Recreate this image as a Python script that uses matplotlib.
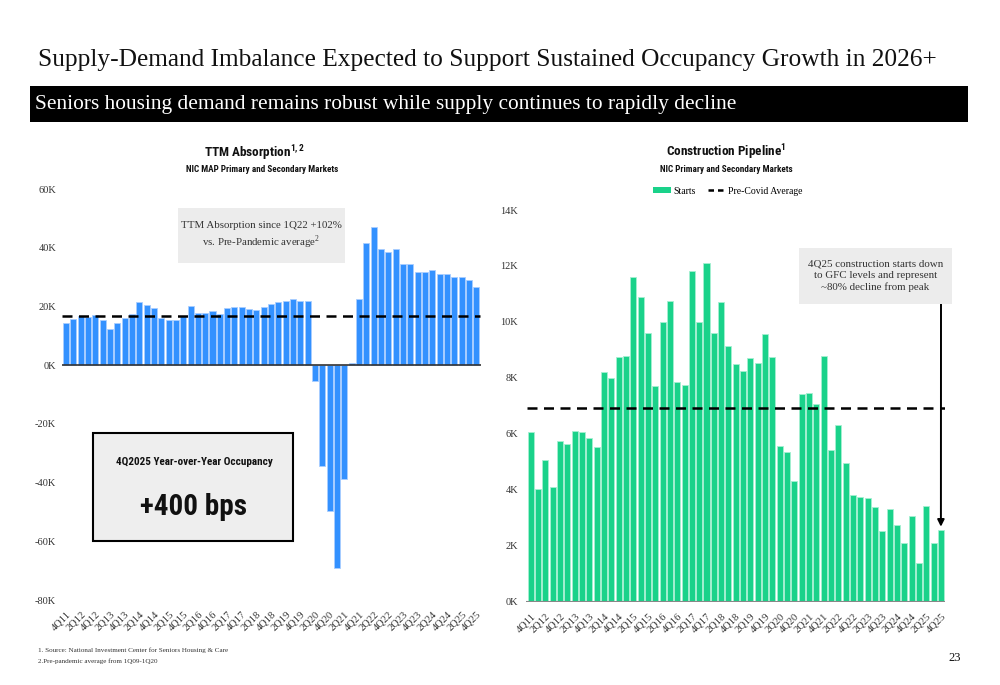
import matplotlib
matplotlib.use("Agg")
import matplotlib.pyplot as plt
from matplotlib.patches import Rectangle, Patch
from matplotlib.lines import Line2D

# ---------------- data ----------------
tick_labels = ["4Q11", "2Q12", "4Q12", "2Q13", "4Q13", "2Q14", "4Q14", "2Q15", "4Q15",
               "2Q16", "4Q16", "2Q17", "4Q17", "2Q18", "4Q18", "2Q19", "4Q19", "2Q20",
               "4Q20", "2Q21", "4Q21", "2Q22", "4Q22", "2Q23", "4Q23", "2Q24", "4Q24",
               "2Q25", "4Q25"]

absorption_k = [14.4, 15.7, 16.7, 16.5, 17.0, 15.5, 12.3, 14.3, 16.1, 17.6,
                21.5, 20.6, 19.4, 16.0, 15.5, 15.5, 16.6, 20.2, 17.9, 17.7,
                18.3, 17.4, 19.5, 19.8, 19.7, 19.0, 18.7, 19.8, 20.9, 21.5,
                21.8, 22.7, 21.7, 21.8, -5.5, -34.3, -49.7, -69.1, -38.9, 0.6,
                22.7, 41.6, 47.1, 39.5, 38.6, 39.6, 34.6, 34.4, 31.6, 31.9,
                32.5, 31.1, 31.0, 30.1, 30.1, 28.9, 26.8]
pre_pandemic_avg_k = 16.9

starts_k = [6.08, 4.03, 5.06, 4.10, 5.74, 5.63, 6.09, 6.07, 5.86, 5.53,
            8.22, 7.99, 8.75, 8.79, 11.60, 10.89, 9.59, 7.70, 9.99, 10.75,
            7.87, 7.76, 11.83, 9.99, 12.09, 9.59, 10.72, 9.14, 8.50, 8.26,
            8.71, 8.53, 9.56, 8.75, 5.56, 5.35, 4.33, 7.41, 7.47, 7.07,
            8.77, 5.43, 6.32, 4.94, 3.80, 3.73, 3.72, 3.39, 2.53, 3.30,
            2.73, 2.11, 3.05, 1.40, 3.42, 2.09, 2.56]
pre_covid_avg_k = 6.94

left_yticks = [60, 40, 20, 0, -20, -40, -60, -80]
right_yticks = [0, 2, 4, 6, 8, 10, 12, 14]

# ---------------- style ----------------
SERIF = ["Liberation Serif", "DejaVu Serif"]
COND = ["Roboto Condensed", "Roboto", "DejaVu Sans"]
BLUE = "#3391FF"
BLUE_EDGE = "#A9CEFF"
GREEN = "#1AD28A"
GREEN_EDGE = "#A6F0D2"
TXT = "#333333"

fig = plt.figure(figsize=(10, 6.85), dpi=100)
W, H = 1000.0, 685.0

def fx(px):
    return px / W

def fy(py):
    return 1 - py / H

# title
fig.text(fx(38), fy(60), "Supply-Demand Imbalance Expected to Support Sustained Occupancy Growth in 2026+",
         family=SERIF, fontsize=18.3, color="#111111", va="center", ha="left")
# banner
fig.patches.append(Rectangle((fx(30), fy(122)), fx(938), 36 / H, transform=fig.transFigure,
                             facecolor="black", edgecolor="none"))
fig.text(fx(35), fy(104), "Seniors housing demand remains robust while supply continues to rapidly decline",
         family=SERIF, fontsize=15.4, color="white", va="center", ha="left")

xs = list(range(len(absorption_k)))
tick_pos = xs[::2]

# ---------------- left chart ----------------
ax1 = fig.add_axes([0.0616, 0.124, 0.419, 0.600])
ax1.bar(xs, absorption_k, width=0.82, color=BLUE, edgecolor=BLUE_EDGE, linewidth=0.6, zorder=2)
ax1.axhline(0, color="#333333", lw=1.2, zorder=3)
ax1.plot([-0.5, len(xs) - 0.5], [pre_pandemic_avg_k] * 2, color="black", lw=1.8,
         dashes=(4, 2.6), zorder=4)
ax1.set_xlim(-0.6, len(xs) - 0.4)
ax1.set_ylim(-80, 60)
ax1.set_yticks(left_yticks)
ax1.set_yticklabels([f"{v}K" for v in left_yticks], family=SERIF, fontsize=7.5, color=TXT)
ax1.set_xticks(tick_pos)
ax1.set_xticklabels(tick_labels, rotation=45, ha="right", rotation_mode="anchor",
                    family=SERIF, fontsize=7.6, color=TXT)
ax1.tick_params(axis="y", length=0, pad=4)
ax1.tick_params(axis="x", length=0, pad=7)
for s in ax1.spines.values():
    s.set_visible(False)

fig.text(fx(255), fy(153), r"TTM Absorption$^{\mathregular{1,2}}$", family=COND, fontweight="bold",
         fontsize=9.5, ha="center", va="center", color="#111111")
fig.text(fx(262), fy(170), "NIC MAP Primary and Secondary Markets", family=COND, fontweight="bold",
         fontsize=6.6, ha="center", va="center", color="#111111")

# annotation box (left)
fig.patches.append(Rectangle((fx(178), fy(263)), fx(167), 55 / H, transform=fig.transFigure,
                             facecolor="#ececec", edgecolor="none", zorder=5))
fig.text(fx(261.5), fy(236), "TTM Absorption since 1Q22 +102%\nvs. Pre-Pandemic average$^{\\mathregular{2}}$",
         family=SERIF, fontsize=7.8, ha="center", va="center", color=TXT, linespacing=1.35, zorder=6)

# occupancy box
fig.patches.append(Rectangle((fx(93), fy(541)), fx(200), 108 / H, transform=fig.transFigure,
                             facecolor="#eeeeee", edgecolor="black", lw=1.5, zorder=5))
fig.text(fx(194), fy(462), "4Q2025 Year-over-Year Occupancy", family=COND, fontweight="bold",
         fontsize=8, ha="center", va="center", color="#111111", zorder=6)
fig.text(fx(194), fy(507), "+400 bps", family=COND, fontweight="bold",
         fontsize=21, ha="center", va="center", color="#111111", zorder=6)

# ---------------- right chart ----------------
ax2 = fig.add_axes([0.5263, 0.1216, 0.419, 0.5718])
ax2.bar(xs, starts_k, width=0.82, color=GREEN, edgecolor=GREEN_EDGE, linewidth=0.6, zorder=2)
ax2.axhline(0, color="#888888", lw=1.5, zorder=3)
ax2.plot([-0.5, len(xs) - 0.5], [pre_covid_avg_k] * 2, color="black", lw=1.8,
         dashes=(4, 2.6), zorder=4)
ax2.set_xlim(-0.6, len(xs) - 0.4)
ax2.set_ylim(0, 14)
ax2.set_yticks(right_yticks)
ax2.set_yticklabels([f"{v}K" for v in right_yticks], family=SERIF, fontsize=7.5, color=TXT)
ax2.set_xticks(tick_pos)
ax2.set_xticklabels(tick_labels, rotation=45, ha="right", rotation_mode="anchor",
                    family=SERIF, fontsize=7.6, color=TXT)
ax2.tick_params(axis="y", length=0, pad=6)
ax2.tick_params(axis="x", length=0, pad=7)
for s in ax2.spines.values():
    s.set_visible(False)

fig.text(fx(726), fy(152), r"Construction Pipeline$^{\mathregular{1}}$", family=COND, fontweight="bold",
         fontsize=9.5, ha="center", va="center", color="#111111")
fig.text(fx(726), fy(170), "NIC Primary and Secondary Markets", family=COND, fontweight="bold",
         fontsize=6.6, ha="center", va="center", color="#111111")

handles = [Patch(facecolor=GREEN, edgecolor="none", label="Starts"),
           Line2D([0], [0], color="black", lw=1.8, dashes=(2.2, 1.6), label="Pre-Covid Average")]
fig.legend(handles=handles, loc="center", bbox_to_anchor=(fx(728), fy(191)), ncol=2,
           frameon=False, prop={"family": SERIF, "size": 7}, handlelength=1.8,
           handleheight=0.6, columnspacing=1.2, handletextpad=0.3)

# annotation box (right)
fig.patches.append(Rectangle((fx(799), fy(304)), fx(153), 56 / H, transform=fig.transFigure,
                             facecolor="#ececec", edgecolor="none", zorder=5))
fig.text(fx(875.5), fy(276), "4Q25 construction starts down\nto GFC levels and represent\n~80% decline from peak",
         family=SERIF, fontsize=7.9, ha="center", va="center", color=TXT, linespacing=1.3, zorder=6)
ax2.annotate("", xy=(len(xs) - 1, starts_k[-1] + 0.12), xycoords="data",
             xytext=(fx(941), fy(304)), textcoords="figure fraction",
             arrowprops=dict(arrowstyle="-|>", color="black", lw=1.4, shrinkA=0, shrinkB=0,
                             mutation_scale=10), zorder=6)

# footnotes
fig.text(fx(38), fy(650), "1. Source: National Investment Center for Seniors Housing & Care",
         family=SERIF, fontsize=5.1, color=TXT, va="center")
fig.text(fx(38), fy(661), "2.Pre-pandemic average from 1Q09-1Q20",
         family=SERIF, fontsize=5.1, color=TXT, va="center")
fig.text(fx(948), fy(658), "23", family=SERIF, fontsize=9, color="#111111", va="center")

fig.savefig("out.png", dpi=100)
